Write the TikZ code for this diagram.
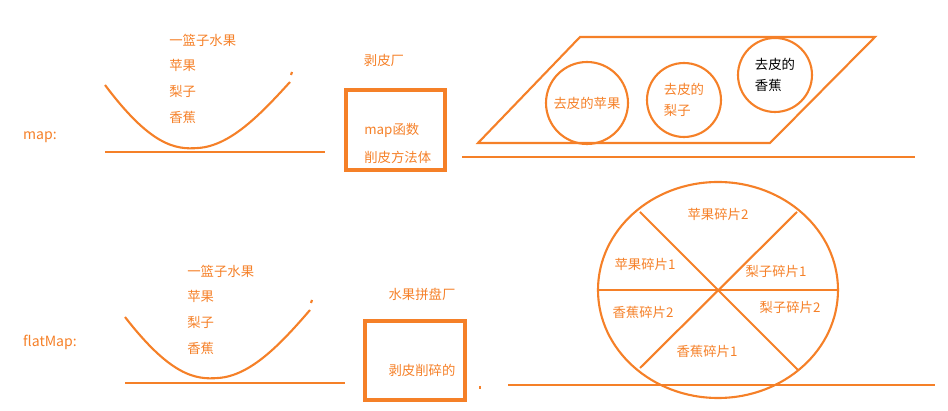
\documentclass[tikz,border=0pt]{standalone}
\usepackage{fontspec}
\setmainfont{Noto Sans CJK SC}
\definecolor{fruit}{RGB}{245,128,40}
\tikzset{
	lbl/.style={text=fruit, font=\fontsize{7.6}{9}\selectfont, inner sep=0pt},
	ln/.style={draw=fruit, line width=1.2pt},
	thick box/.style={draw=fruit, line width=2pt},
	peeled/.style={circle, draw=fruit, line width=1.2pt, inner sep=0pt}
}
\begin{document}
\begin{tikzpicture}[x=0.02cm, y=-0.02cm]
	\useasboundingbox (0,0) rectangle (948,411);

	% map
	\node[lbl, font=\fontsize{8}{9}\selectfont](maplbl) at (40,137){map:};
	\draw[ln] (105,85) .. controls (150,145) and (175,150) .. (198,148) .. controls (230,146) and (260,115) .. (290,82);
	\draw[ln] (291,75) -- (292,72);
	\draw[ln] (105,152) -- (325,152);
	\node[lbl, anchor=west](basket) at (169,40){一篮子水果};
	\node[lbl, anchor=west](apple) at (169,65){苹果};
	\node[lbl, anchor=west](pear) at (169,91){梨子};
	\node[lbl, anchor=west](banana) at (169,117){香蕉};
	\node[lbl](factory) at (384,60){剥皮厂};
	\draw[thick box] (346,90) rectangle (445,170);
	\node[lbl, anchor=west](mapfn) at (364,130){map函数};
	\node[lbl, anchor=west](peel) at (364,157){削皮方法体};
	\draw[ln] (478,143) -- (580,37) -- (875,37) -- (770,143) -- cycle;
	\draw[ln] (462,157) -- (915,157);
	\node[peeled, minimum size=1.64cm](papple) at (587,103){};
	\node[lbl] at (papple){去皮的苹果};
	\node[peeled, minimum size=1.48cm](ppear) at (684,100){};
	\node[lbl, align=left] at (ppear){去皮的\\[3pt]梨子};
	\node[peeled, minimum size=1.48cm](pbanana) at (775,75){};
	\node[lbl, text=black, align=left] at (pbanana){去皮的\\[3pt]香蕉};

	% flatMap
	\node[lbl, font=\fontsize{8}{9}\selectfont](flatlbl) at (50,342){flatMap:};
	\draw[ln] (125,317) .. controls (170,375) and (195,380) .. (218,378) .. controls (250,376) and (280,345) .. (310,310);
	\draw[ln] (311,303) -- (312,300);
	\draw[ln] (125,383) -- (345,383);
	\node[lbl, anchor=west](basket2) at (187,271){一篮子水果};
	\node[lbl, anchor=west](apple2) at (187,296){苹果};
	\node[lbl, anchor=west](pear2) at (187,322){梨子};
	\node[lbl, anchor=west](banana2) at (187,348){香蕉};
	\node[lbl](platter) at (422,294){水果拼盘厂};
	\draw[thick box] (365,321) rectangle (465,400);
	\node[lbl](chop) at (422,370){剥皮削碎的};
	\draw[ln] (480,386) -- (480,389);
	\draw[ln] (718,290) ellipse (120 and 108);
	\draw[ln] (640,212) -- (798,370);
	\draw[ln] (797,212) -- (640,368);
	\draw[ln] (598,290) -- (838,290);
	\node[lbl] at (718,214){苹果碎片2};
	\node[lbl] at (645,264){苹果碎片1};
	\node[lbl] at (776,271){梨子碎片1};
	\node[lbl] at (790,307){梨子碎片2};
	\node[lbl] at (643,312){香蕉碎片2};
	\node[lbl] at (707,351){香蕉碎片1};
	\draw[ln] (508,385) -- (935,385);
\end{tikzpicture}
\end{document}
